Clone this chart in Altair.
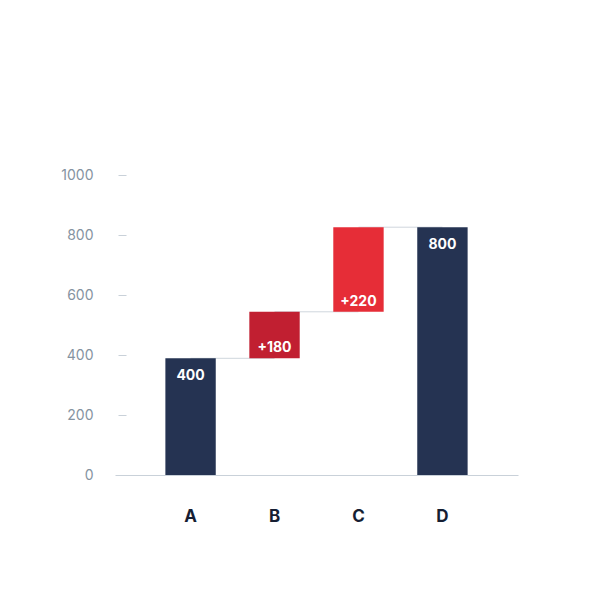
import altair as alt
import pandas as pd

categories = ["A", "B", "C", "D"]
bar_start = [0, 389, 544, 0]
bar_end = [389, 544, 826, 826]
bar_labels = ["400", "+180", "+220", "800"]
bar_kind = ["total", "increase", "increase", "total"]
bar_colors = ["#253352", "#c11f31", "#e62d37", "#253352"]

y_ticks = [0, 200, 400, 600, 800, 1000]

bars_df = pd.DataFrame({
    "cat": categories,
    "start": bar_start,
    "end": bar_end,
    "label": bar_labels,
    "kind": bar_kind,
})

conn_df = pd.DataFrame({
    "cat": categories[:-1],
    "next": categories[1:],
    "level": bar_end[:-1],
})

FONT = "Inter"

x_scale = alt.Scale(domain=categories, paddingInner=0.4, paddingOuter=0.6)
y_scale = alt.Scale(domain=[0, 1000], nice=False)

x_enc = alt.X(
    "cat:N",
    scale=x_scale,
    title=None,
    axis=alt.Axis(
        labelAngle=0,
        labelAlign="center",
        bandPosition=0.5,
        labelFont=FONT,
        labelFontSize=17,
        labelFontWeight="bold",
        labelColor="#161e33",
        labelPadding=41,
        ticks=False,
        domainColor="#c9d1d9",
        domainWidth=1,
        grid=False,
    ),
)

y_axis = alt.Axis(
    values=y_ticks,
    format="d",
    labelFont=FONT,
    labelFontSize=14,
    labelColor="#8593a1",
    labelPadding=25,
    tickSize=8,
    tickColor="#c9d1d9",
    domain=False,
    grid=False,
    offset=-11,
)

connectors = alt.Chart(conn_df).mark_rule(color="#cfd6dd", strokeWidth=1).encode(
    x=alt.X("cat:N", scale=x_scale),
    x2="next:N",
    y=alt.Y("level:Q", scale=y_scale),
)

bars = alt.Chart(bars_df).mark_bar().encode(
    x=x_enc,
    y=alt.Y("start:Q", scale=y_scale, axis=y_axis, title=None),
    y2="end:Q",
    color=alt.Color("cat:N", scale=alt.Scale(domain=categories, range=bar_colors), legend=None),
)

total_text = alt.Chart(bars_df).transform_filter(
    alt.datum.kind == "total"
).mark_text(
    font=FONT, fontSize=14, fontWeight="bold", color="white", baseline="top", dy=11
).encode(
    x=alt.X("cat:N", scale=x_scale),
    y=alt.Y("end:Q", scale=y_scale),
    text="label:N",
)

inc_text = alt.Chart(bars_df).transform_filter(
    alt.datum.kind == "increase"
).mark_text(
    font=FONT, fontSize=14, fontWeight="bold", color="white", baseline="bottom", dy=-3
).encode(
    x=alt.X("cat:N", scale=x_scale),
    y=alt.Y("start:Q", scale=y_scale),
    text="label:N",
)

chart = alt.layer(connectors, bars, total_text, inc_text).properties(
    width=403,
    height=300,
    padding={"left": 107, "top": 167, "right": 72, "bottom": 117},
    autosize=alt.AutoSizeParams(type="none"),
    background="white",
).configure_view(stroke=None)

chart.save("out.html", embed_options={"renderer": "svg", "actions": False})
